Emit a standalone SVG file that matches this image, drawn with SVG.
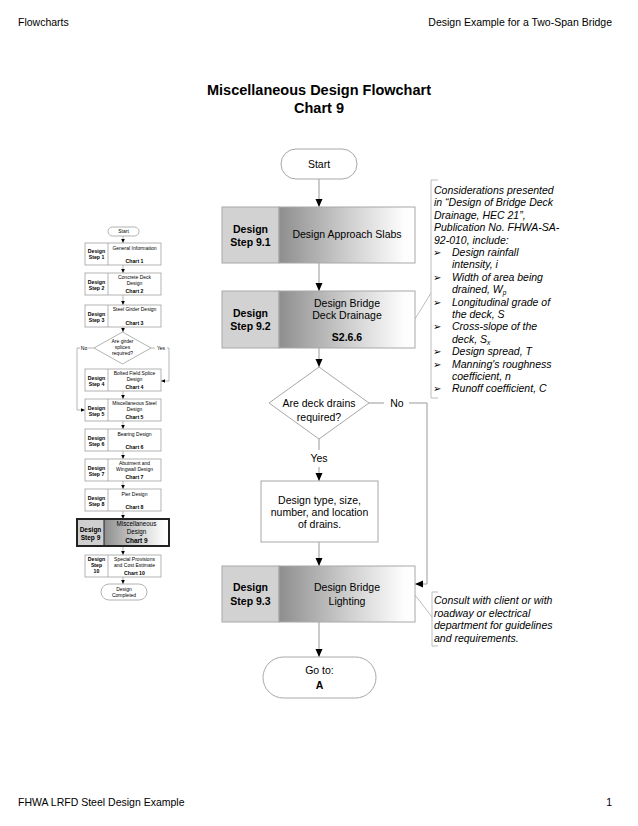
<svg xmlns="http://www.w3.org/2000/svg" width="638" height="826" viewBox="0 0 638 826">
<defs>
<linearGradient id="grad" x1="0" y1="0" x2="1" y2="0">
<stop offset="0" stop-color="#8e8e8e"/>
<stop offset="0.5" stop-color="#cdcdcd"/>
<stop offset="0.92" stop-color="#fdfdfd"/>
<stop offset="1" stop-color="#ffffff"/>
</linearGradient>
<marker id="arr" markerUnits="userSpaceOnUse" markerWidth="8" markerHeight="8" refX="8" refY="4" orient="auto">
<path d="M0,0.5 L8,4 L0,7.5 z" fill="#000"/>
</marker>
<marker id="arrs" markerUnits="userSpaceOnUse" markerWidth="4" markerHeight="4" refX="4" refY="2" orient="auto">
<path d="M0,0.2 L4,2 L0,3.8 z" fill="#000"/>
</marker>
<style>
text{font-family:"Liberation Sans",Arial,sans-serif;fill:#000}
.hd{font-size:10.5px}
.ttl{font-size:14.5px;font-weight:bold;text-anchor:middle}
.m{font-size:10.5px;text-anchor:middle}
.mb{font-size:10.5px;text-anchor:middle;font-weight:bold}
.s{font-size:5px;text-anchor:middle}
.sb{font-size:5.2px;text-anchor:middle;font-weight:bold}
.h9{font-size:6.3px;text-anchor:middle}
.h9b{font-size:6.5px;text-anchor:middle;font-weight:bold}
.it{font-size:10.5px;font-style:italic}
.sub{font-size:6.5px}
.bul{font-family:"DejaVu Sans",sans-serif;font-size:10px}
.box{fill:#fff;stroke:#a8a8a8;stroke-width:1}
.lc{fill:#d2d2d2;stroke:#a8a8a8;stroke-width:1}
.rc{fill:url(#grad);stroke:#a8a8a8;stroke-width:1}
.sbox{fill:#fff;stroke:#a0a0a0;stroke-width:0.8}
.con{fill:none;stroke:#999;stroke-width:1}
.scon{fill:none;stroke:#999;stroke-width:0.7}
.br{fill:none;stroke:#bdbdbd;stroke-width:1}
</style>
</defs>

<!-- header / footer -->
<text class="hd" x="18" y="26">Flowcharts</text>
<text class="hd" x="612" y="26" text-anchor="end">Design Example for a Two-Span Bridge</text>
<text class="hd" x="18" y="806">FHWA LRFD Steel Design Example</text>
<text class="hd" x="612" y="806" text-anchor="end">1</text>

<text class="ttl" x="319" y="95">Miscellaneous Design Flowchart</text>
<text class="ttl" x="319" y="113">Chart 9</text>

<!-- connectors -->
<g id="connectors">
<line class="con" x1="319" y1="179" x2="319" y2="207" marker-end="url(#arr)"/>
<line class="con" x1="319" y1="263" x2="319" y2="291" marker-end="url(#arr)"/>
<line class="con" x1="319" y1="348" x2="319" y2="367" marker-end="url(#arr)"/>
<line class="con" x1="319" y1="439" x2="319" y2="450"/>
<line class="con" x1="319" y1="467" x2="319" y2="481" marker-end="url(#arr)"/>
<line class="con" x1="319" y1="542" x2="319" y2="566" marker-end="url(#arr)"/>
<line class="con" x1="319" y1="622" x2="319" y2="657" marker-end="url(#arr)"/>
<line class="con" x1="369" y1="403" x2="384" y2="403"/>
<polyline class="con" points="409,403 427,403 427,584 415,584" marker-end="url(#arr)"/>
<text class="m" x="319" y="462">Yes</text>
<text class="m" x="397" y="407">No</text>
<!-- annotation leaders / brackets -->
<line class="br" x1="415" y1="319" x2="431" y2="293"/>
<polyline class="br" points="438,180 431,180 431,398 438,398"/>
<line class="br" x1="415" y1="595" x2="432" y2="617"/>
<polyline class="br" points="438,592 432,592 432,646 438,646"/>
<!-- small chart connectors -->
<line class="scon" x1="123" y1="236" x2="123" y2="243" marker-end="url(#arrs)"/>
<line class="scon" x1="123" y1="265" x2="123" y2="273" marker-end="url(#arrs)"/>
<line class="scon" x1="123" y1="295" x2="123" y2="305" marker-end="url(#arrs)"/>
<line class="scon" x1="123" y1="327" x2="123" y2="332" marker-end="url(#arrs)"/>
<line class="scon" x1="123" y1="391" x2="123" y2="399" marker-end="url(#arrs)"/>
<line class="scon" x1="123" y1="421" x2="123" y2="429" marker-end="url(#arrs)"/>
<line class="scon" x1="123" y1="451" x2="123" y2="459" marker-end="url(#arrs)"/>
<line class="scon" x1="123" y1="481" x2="123" y2="489" marker-end="url(#arrs)"/>
<line class="scon" x1="123" y1="511" x2="123" y2="519" marker-end="url(#arrs)"/>
<line class="scon" x1="123" y1="546" x2="123" y2="555" marker-end="url(#arrs)"/>
<line class="scon" x1="123" y1="577" x2="123" y2="584" marker-end="url(#arrs)"/>
<line class="scon" x1="94" y1="348" x2="88" y2="348"/>
<polyline class="scon" points="80,348 77,348 77,410 85,410" marker-end="url(#arrs)"/>
<line class="scon" x1="151" y1="348" x2="155" y2="348"/>
<polyline class="scon" points="167,348 169,348 169,381 161,381" marker-end="url(#arrs)"/>
<text class="s" x="84" y="350">No</text>
<text class="s" x="161" y="350">Yes</text>
</g>

<!-- main chart nodes -->
<g id="start">
<rect class="box" x="281" y="149" width="76" height="30" rx="15"/>
<text class="m" x="319" y="168">Start</text>
</g>
<g id="step91">
<rect class="lc" x="222" y="207" width="57" height="56"/>
<rect class="rc" x="279" y="207" width="136" height="56"/>
<text class="mb" x="250.5" y="233">Design</text>
<text class="mb" x="250.5" y="246">Step 9.1</text>
<text class="m" x="347" y="238">Design Approach Slabs</text>
</g>
<g id="step92">
<rect class="lc" x="222" y="291" width="57" height="57"/>
<rect class="rc" x="279" y="291" width="136" height="57"/>
<text class="mb" x="250.5" y="317">Design</text>
<text class="mb" x="250.5" y="330">Step 9.2</text>
<text class="m" x="347" y="307">Design Bridge</text>
<text class="m" x="347" y="319">Deck Drainage</text>
<text class="mb" x="347" y="341">S2.6.6</text>
</g>
<g id="decision">
<polygon class="box" points="319,367 369,403 319,439 269,403"/>
<text class="m" x="319" y="407">Are deck drains</text>
<text class="m" x="319" y="421">required?</text>
</g>
<g id="drains">
<rect class="box" x="261" y="481" width="117" height="61"/>
<text class="m" x="319.5" y="504">Design type, size,</text>
<text class="m" x="319.5" y="516">number, and location</text>
<text class="m" x="319.5" y="528">of drains.</text>
</g>
<g id="step93">
<rect class="lc" x="222" y="566" width="57" height="56"/>
<rect class="rc" x="279" y="566" width="136" height="56"/>
<text class="mb" x="250.5" y="591">Design</text>
<text class="mb" x="250.5" y="605">Step 9.3</text>
<text class="m" x="347" y="591">Design Bridge</text>
<text class="m" x="347" y="605">Lighting</text>
</g>
<g id="goto">
<rect class="box" x="263" y="657" width="113" height="41" rx="20.5"/>
<text class="m" x="319.5" y="674">Go to:</text>
<text class="mb" x="319.5" y="689">A</text>
</g>

<!-- annotations -->
<g id="note1">
<text class="it" x="434" y="194">Considerations presented</text>
<text class="it" x="434" y="206.4">in “Design of Bridge Deck</text>
<text class="it" x="434" y="218.8">Drainage, HEC 21”,</text>
<text class="it" x="434" y="231.2">Publication No. FHWA-SA-</text>
<text class="it" x="434" y="243.6">92-010, include:</text>
<text class="bul" x="433" y="256">➢</text><text class="it" x="452" y="256">Design rainfall</text>
<text class="it" x="452" y="268.4">intensity, i</text>
<text class="bul" x="433" y="280.8">➢</text><text class="it" x="452" y="280.8">Width of area being</text>
<text class="it" x="452" y="293.2">drained, W<tspan class="sub" dy="1.8">p</tspan></text>
<text class="bul" x="433" y="305.6">➢</text><text class="it" x="452" y="305.6">Longitudinal grade of</text>
<text class="it" x="452" y="318">the deck, S</text>
<text class="bul" x="433" y="330.4">➢</text><text class="it" x="452" y="330.4">Cross-slope of the</text>
<text class="it" x="452" y="342.8">deck, S<tspan class="sub" dy="1.8">x</tspan></text>
<text class="bul" x="433" y="355.2">➢</text><text class="it" x="452" y="355.2">Design spread, T</text>
<text class="bul" x="433" y="367.6">➢</text><text class="it" x="452" y="367.6">Manning's roughness</text>
<text class="it" x="452" y="380">coefficient, n</text>
<text class="bul" x="433" y="392.4">➢</text><text class="it" x="452" y="392.4">Runoff coefficient, C</text>
</g>
<g id="note2">
<text class="it" x="434" y="604">Consult with client or with</text>
<text class="it" x="434" y="616.5">roadway or electrical</text>
<text class="it" x="434" y="629">department for guidelines</text>
<text class="it" x="434" y="641.5">and requirements.</text>
</g>

<!-- small overview chart -->
<g id="s-start">
<rect class="sbox" x="108" y="227" width="31" height="9" rx="4.5"/>
<text class="s" x="123.5" y="233.3">Start</text>
</g>
<g id="s-step1">
<rect class="sbox" x="85" y="243" width="76" height="22"/>
<line class="scon" x1="108" y1="243" x2="108" y2="265"/>
<text class="sb" x="96.5" y="253">Design</text>
<text class="sb" x="96.5" y="259">Step 1</text>
<text class="s" x="134.5" y="250">General Information</text>
<text class="sb" x="134.5" y="262.5">Chart 1</text>
</g>
<g id="s-step2">
<rect class="sbox" x="85" y="273" width="76" height="22"/>
<line class="scon" x1="108" y1="273" x2="108" y2="295"/>
<text class="sb" x="96.5" y="284">Design</text>
<text class="sb" x="96.5" y="290">Step 2</text>
<text class="s" x="134.5" y="279">Concrete Deck</text>
<text class="s" x="134.5" y="285">Design</text>
<text class="sb" x="134.5" y="293">Chart 2</text>
</g>
<g id="s-step3">
<rect class="sbox" x="85" y="305" width="76" height="22"/>
<line class="scon" x1="108" y1="305" x2="108" y2="327"/>
<text class="sb" x="96.5" y="316">Design</text>
<text class="sb" x="96.5" y="322">Step 3</text>
<text class="s" x="134.5" y="311">Steel Girder Design</text>
<text class="sb" x="134.5" y="324.5">Chart 3</text>
</g>
<g id="s-decision">
<polygon class="sbox" points="122.5,332 151,348 122.5,364 94,348"/>
<text class="s" x="122.5" y="343">Are girder</text>
<text class="s" x="122.5" y="349">splices</text>
<text class="s" x="122.5" y="355">required?</text>
</g>
<g id="s-step4">
<rect class="sbox" x="85" y="369" width="76" height="22"/>
<line class="scon" x1="108" y1="369" x2="108" y2="391"/>
<text class="sb" x="96.5" y="380">Design</text>
<text class="sb" x="96.5" y="386">Step 4</text>
<text class="s" x="134.5" y="375">Bolted Field Splice</text>
<text class="s" x="134.5" y="381">Design</text>
<text class="sb" x="134.5" y="389">Chart 4</text>
</g>
<g id="s-step5">
<rect class="sbox" x="85" y="399" width="76" height="22"/>
<line class="scon" x1="108" y1="399" x2="108" y2="421"/>
<text class="sb" x="96.5" y="410">Design</text>
<text class="sb" x="96.5" y="416">Step 5</text>
<text class="s" x="134.5" y="405">Miscellaneous Steel</text>
<text class="s" x="134.5" y="411">Design</text>
<text class="sb" x="134.5" y="419">Chart 5</text>
</g>
<g id="s-step6">
<rect class="sbox" x="85" y="429" width="76" height="22"/>
<line class="scon" x1="108" y1="429" x2="108" y2="451"/>
<text class="sb" x="96.5" y="440">Design</text>
<text class="sb" x="96.5" y="446">Step 6</text>
<text class="s" x="134.5" y="436">Bearing Design</text>
<text class="sb" x="134.5" y="448.5">Chart 6</text>
</g>
<g id="s-step7">
<rect class="sbox" x="85" y="459" width="76" height="22"/>
<line class="scon" x1="108" y1="459" x2="108" y2="481"/>
<text class="sb" x="96.5" y="470">Design</text>
<text class="sb" x="96.5" y="476">Step 7</text>
<text class="s" x="134.5" y="465">Abutment and</text>
<text class="s" x="134.5" y="471">Wingwall Design</text>
<text class="sb" x="134.5" y="479">Chart 7</text>
</g>
<g id="s-step8">
<rect class="sbox" x="85" y="489" width="76" height="22"/>
<line class="scon" x1="108" y1="489" x2="108" y2="511"/>
<text class="sb" x="96.5" y="500">Design</text>
<text class="sb" x="96.5" y="506">Step 8</text>
<text class="s" x="134.5" y="496">Pier Design</text>
<text class="sb" x="134.5" y="508.5">Chart 8</text>
</g>
<g id="s-step9">
<rect x="77" y="519" width="27" height="27" fill="#cfcfcf"/>
<rect x="104" y="519" width="65" height="27" fill="url(#grad)"/>
<rect x="77" y="519" width="92" height="27" fill="none" stroke="#222" stroke-width="2"/>
<line x1="104" y1="519" x2="104" y2="546" stroke="#222" stroke-width="1"/>
<text class="h9b" x="90.5" y="532">Design</text>
<text class="h9b" x="90.5" y="539.5">Step 9</text>
<text class="h9" x="136.5" y="526">Miscellaneous</text>
<text class="h9" x="136.5" y="533.5">Design</text>
<text class="h9b" x="136.5" y="542.5">Chart 9</text>
</g>
<g id="s-step10">
<rect class="sbox" x="85" y="555" width="76" height="22"/>
<line class="scon" x1="108" y1="555" x2="108" y2="577"/>
<text class="sb" x="96.5" y="561">Design</text>
<text class="sb" x="96.5" y="567">Step</text>
<text class="sb" x="96.5" y="573">10</text>
<text class="s" x="134.5" y="560.5">Special Provisions</text>
<text class="s" x="134.5" y="566.5">and Cost Estimate</text>
<text class="sb" x="134.5" y="575">Chart 10</text>
</g>
<g id="s-end">
<rect class="sbox" x="101" y="584" width="46" height="16" rx="8"/>
<text class="s" x="124" y="590.5">Design</text>
<text class="s" x="124" y="597">Completed</text>
</g>
</svg>
